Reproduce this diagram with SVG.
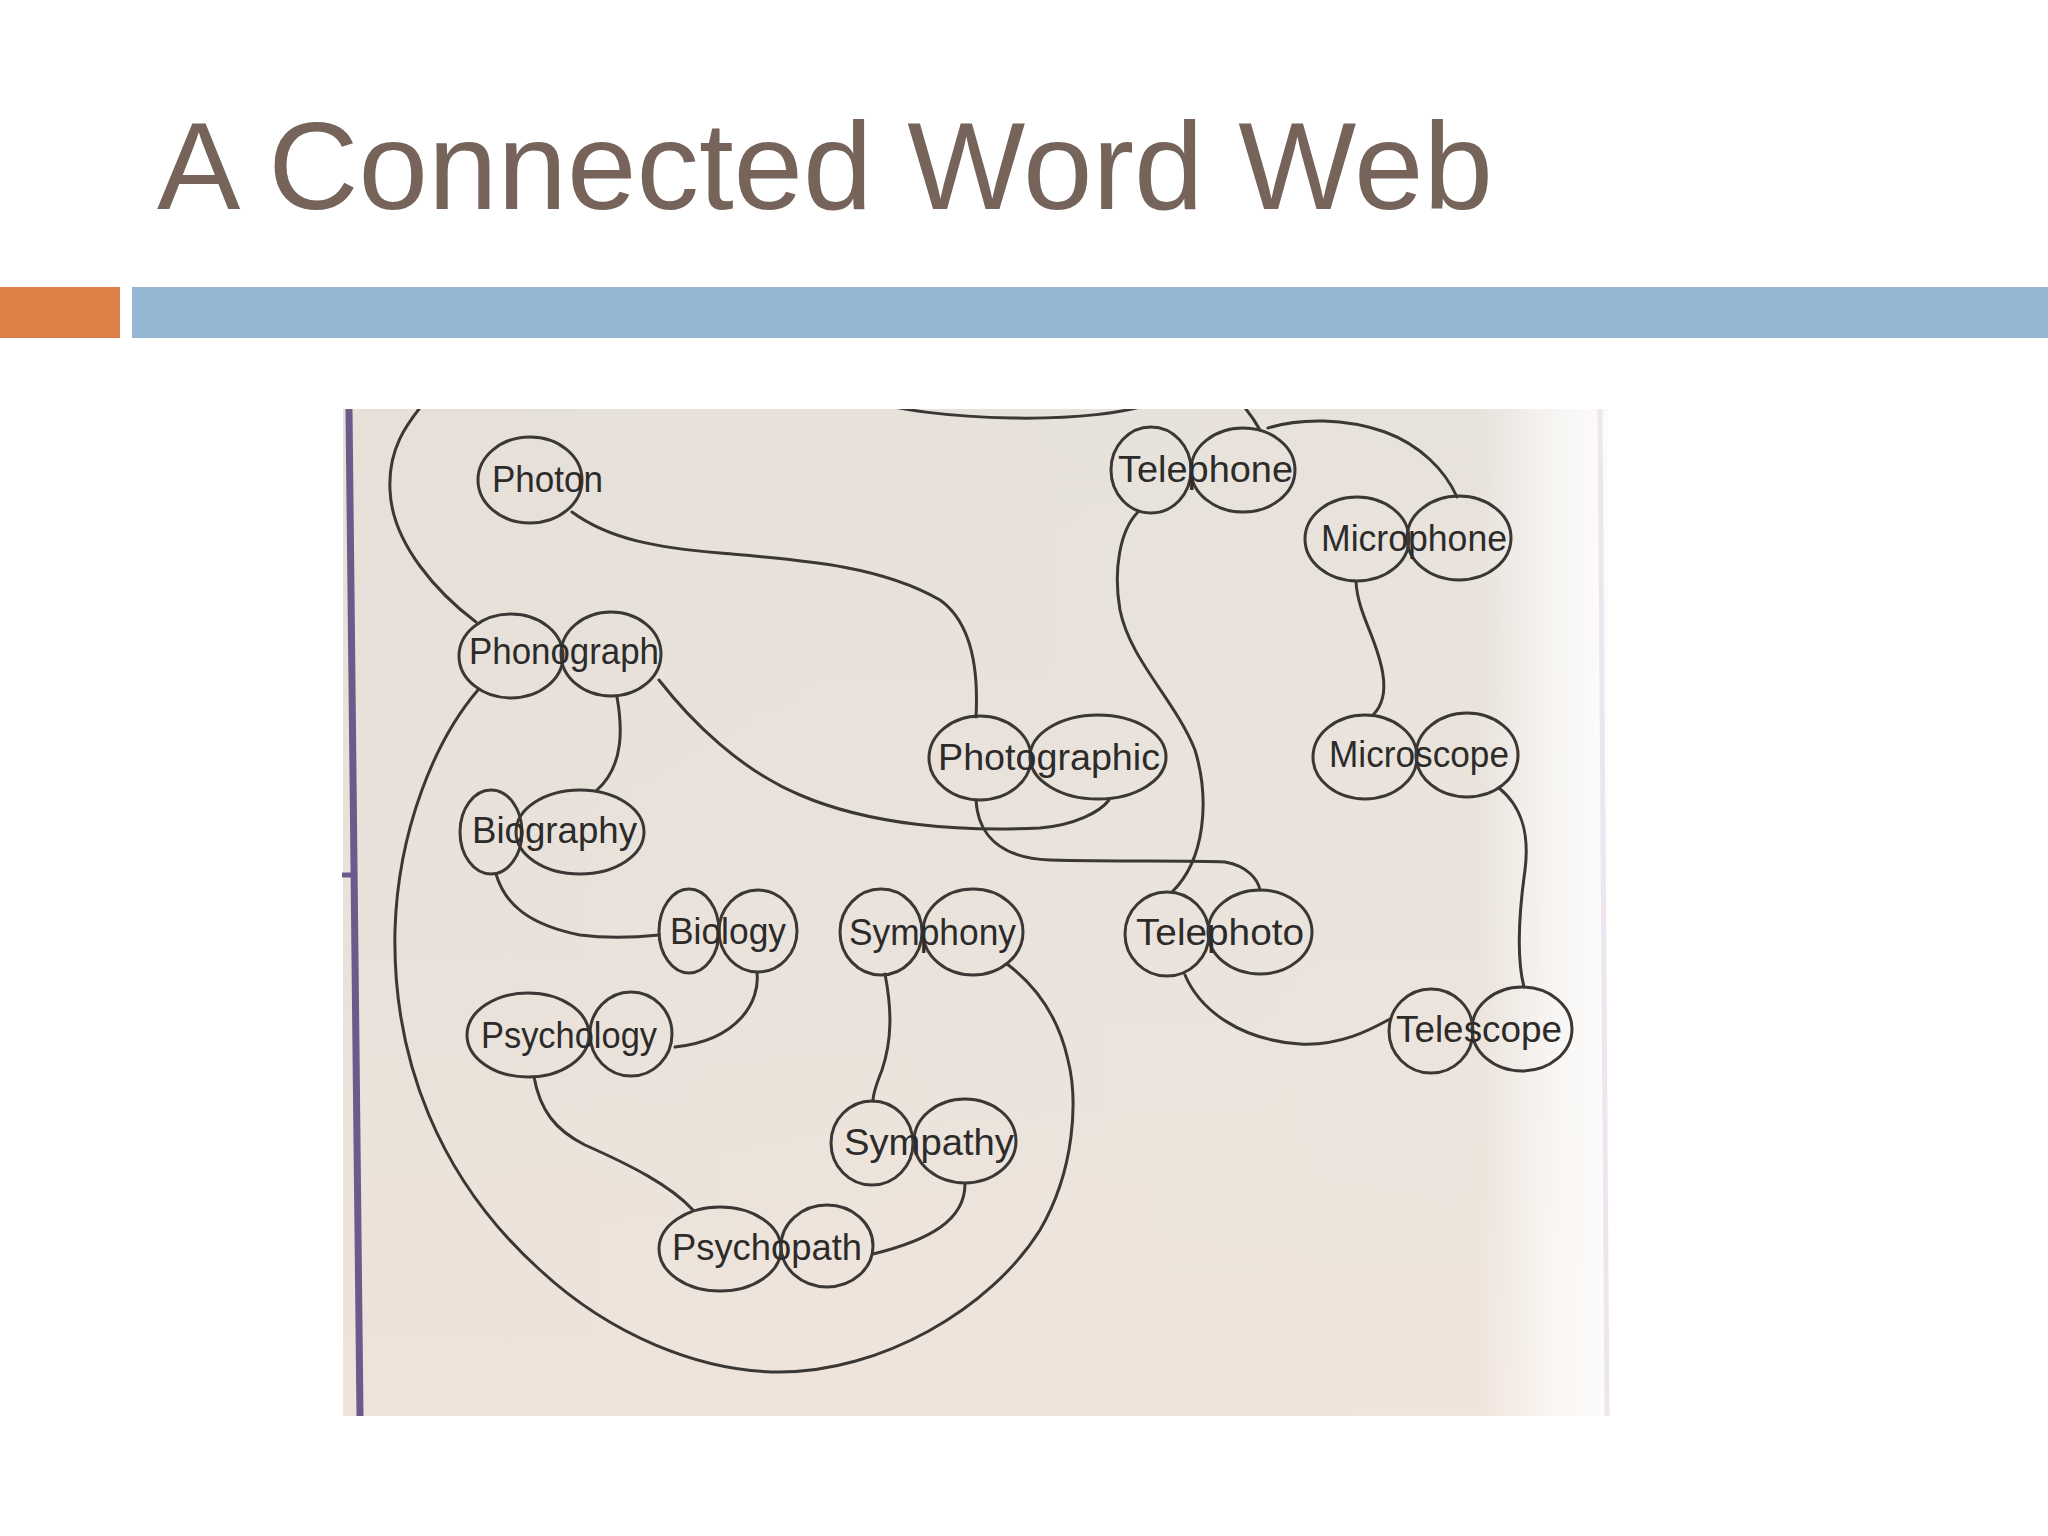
<svg xmlns="http://www.w3.org/2000/svg" width="2048" height="1536" viewBox="0 0 2048 1536">
<defs>
<style>
.title{font-family:"Liberation Sans",Arial,sans-serif;font-size:124px;fill:#76635A}
.n ellipse{fill:none;stroke:#3a3735;stroke-width:3}
.n text{font-family:"Liberation Sans",Arial,sans-serif;font-size:36px;fill:#2d2b2a}
.c path{fill:none;stroke:#3a3735;stroke-width:3;stroke-linecap:round}
</style>
<linearGradient id="bgv" x1="0" y1="0" x2="0" y2="1">
<stop offset="0" stop-color="#E6E0D9"/>
<stop offset="0.55" stop-color="#E9E2DA"/>
<stop offset="1" stop-color="#EFE3DA"/>
</linearGradient>
<linearGradient id="fade" x1="343" y1="0" x2="1608" y2="0" gradientUnits="userSpaceOnUse">
<stop offset="0" stop-color="#FFFFFF" stop-opacity="0"/>
<stop offset="0.9" stop-color="#FFFFFF" stop-opacity="0.08"/>
<stop offset="0.96" stop-color="#FFFFFF" stop-opacity="0.7"/>
<stop offset="1" stop-color="#FFFFFF" stop-opacity="0.9"/>
</linearGradient>
<clipPath id="photo"><rect x="343" y="409" width="1265" height="1007"/></clipPath>
</defs>
<rect width="2048" height="1536" fill="#FFFFFF"/>
<text class="title" x="157" y="209" textLength="1336" lengthAdjust="spacingAndGlyphs">A Connected Word Web</text>
<rect x="0" y="287" width="120" height="51" fill="#DD8047"/>
<rect x="132" y="287" width="1916" height="51" fill="#94B6D2"/>
<g id="photo-bg">
<rect x="343" y="409" width="1265" height="1007" fill="url(#bgv)"/>
<rect x="343" y="409" width="1265" height="1007" fill="url(#fade)"/>
<line x1="1600" y1="409" x2="1607" y2="1416" stroke="#EDE6F0" stroke-width="5"/>
<line x1="349" y1="409" x2="360" y2="1416" stroke="#6B5A8A" stroke-width="7"/>
<line x1="342" y1="875" x2="352" y2="875" stroke="#6B5A8A" stroke-width="5"/>
</g>
<g id="connectors" class="c" clip-path="url(#photo)">
<path d="M 476 622 C 440 595, 392 545, 390 490 C 388 450, 405 425, 428 398"/>
<path d="M 870 400 C 920 420, 1100 428, 1160 400"/>
<path d="M 1236 398 Q 1250 412, 1260 430"/>
<path d="M 1268 428 C 1300 418, 1345 418, 1385 432 C 1420 445, 1445 470, 1457 497"/>
<path d="M 572 512 C 610 540, 660 548, 720 553 C 800 560, 880 565, 940 600 C 975 625, 978 680, 976 717"/>
<path d="M 659 680 C 690 720, 740 770, 800 795 C 870 825, 960 832, 1040 828 C 1075 825, 1100 812, 1109 800"/>
<path d="M 617 697 C 622 725, 625 765, 597 790"/>
<path d="M 478 690 C 435 740, 398 830, 395 930 C 392 1060, 440 1180, 540 1270 C 610 1335, 700 1372, 780 1372 C 880 1372, 990 1310, 1040 1230 C 1075 1170, 1078 1100, 1068 1060 C 1058 1015, 1035 985, 1007 964"/>
<path d="M 496 874 C 505 905, 530 925, 580 935 C 610 939, 640 937, 659 935"/>
<path d="M 757 973 C 760 1000, 740 1040, 675 1047"/>
<path d="M 534 1077 C 540 1110, 555 1130, 585 1145 C 630 1165, 670 1185, 693 1210"/>
<path d="M 885 974 C 892 1010, 892 1040, 882 1070 C 876 1085, 873 1095, 873 1101"/>
<path d="M 965 1184 C 965 1220, 930 1240, 873 1254"/>
<path d="M 976 800 C 978 835, 1000 858, 1050 860 C 1120 862, 1190 860, 1225 862 C 1248 866, 1258 880, 1260 890"/>
<path d="M 1138 512 C 1120 530, 1113 570, 1120 610 C 1130 660, 1175 700, 1195 750 C 1210 800, 1205 860, 1172 892"/>
<path d="M 1356 582 C 1358 615, 1378 640, 1383 675 C 1386 695, 1380 708, 1373 715"/>
<path d="M 1499 788 C 1520 805, 1530 830, 1525 870 C 1518 920, 1517 960, 1524 987"/>
<path d="M 1185 975 C 1200 1010, 1240 1040, 1300 1044 C 1340 1046, 1370 1030, 1390 1019"/>
</g>
<g id="photon" class="n"><ellipse cx="530" cy="480" rx="52" ry="43"/><text x="492" y="492" textLength="111" lengthAdjust="spacingAndGlyphs">Photon</text></g>
<g id="phonograph" class="n"><ellipse cx="511" cy="656" rx="52" ry="42"/><ellipse cx="611" cy="654" rx="50" ry="42"/><text x="469" y="664" textLength="190" lengthAdjust="spacingAndGlyphs">Phonograph</text></g>
<g id="biography" class="n"><ellipse cx="491" cy="832" rx="31" ry="42"/><ellipse cx="580" cy="832" rx="64" ry="42"/><text x="472" y="843" textLength="165" lengthAdjust="spacingAndGlyphs">Biography</text></g>
<g id="photographic" class="n"><ellipse cx="980" cy="758" rx="51" ry="42"/><ellipse cx="1098" cy="757" rx="68" ry="42"/><text x="938" y="770" textLength="222" lengthAdjust="spacingAndGlyphs">Photographic</text></g>
<g id="telephone" class="n"><ellipse cx="1151" cy="470" rx="40" ry="43"/><ellipse cx="1243" cy="470" rx="52" ry="42"/><text x="1118" y="482" textLength="175" lengthAdjust="spacingAndGlyphs">Telephone</text></g>
<g id="microphone" class="n"><ellipse cx="1357" cy="539" rx="52" ry="42"/><ellipse cx="1459" cy="538" rx="52" ry="42"/><text x="1321" y="551" textLength="186" lengthAdjust="spacingAndGlyphs">Microphone</text></g>
<g id="microscope" class="n"><ellipse cx="1365" cy="757" rx="52" ry="42"/><ellipse cx="1467" cy="755" rx="51" ry="42"/><text x="1329" y="767" textLength="180" lengthAdjust="spacingAndGlyphs">Microscope</text></g>
<g id="biology" class="n"><ellipse cx="689" cy="931" rx="30" ry="42"/><ellipse cx="758" cy="931" rx="39" ry="41"/><text x="670" y="944" textLength="116" lengthAdjust="spacingAndGlyphs">Biology</text></g>
<g id="symphony" class="n"><ellipse cx="881" cy="932" rx="41" ry="43"/><ellipse cx="973" cy="932" rx="50" ry="43"/><text x="849" y="945" textLength="167" lengthAdjust="spacingAndGlyphs">Symphony</text></g>
<g id="psychology" class="n"><ellipse cx="528" cy="1035" rx="61" ry="42"/><ellipse cx="631" cy="1034" rx="41" ry="42"/><text x="481" y="1048" textLength="176" lengthAdjust="spacingAndGlyphs">Psychology</text></g>
<g id="sympathy" class="n"><ellipse cx="872" cy="1143" rx="41" ry="42"/><ellipse cx="965" cy="1141" rx="51" ry="42"/><text x="844" y="1155" textLength="170" lengthAdjust="spacingAndGlyphs">Sympathy</text></g>
<g id="psychopath" class="n"><ellipse cx="720" cy="1249" rx="61" ry="42"/><ellipse cx="827" cy="1246" rx="46" ry="41"/><text x="672" y="1260" textLength="190" lengthAdjust="spacingAndGlyphs">Psychopath</text></g>
<g id="telephoto" class="n"><ellipse cx="1167" cy="934" rx="42" ry="42"/><ellipse cx="1260" cy="932" rx="52" ry="42"/><text x="1136" y="945" textLength="168" lengthAdjust="spacingAndGlyphs">Telephoto</text></g>
<g id="telescope" class="n"><ellipse cx="1431" cy="1031" rx="42" ry="42"/><ellipse cx="1522" cy="1029" rx="50" ry="42"/><text x="1396" y="1042" textLength="166" lengthAdjust="spacingAndGlyphs">Telescope</text></g>
</svg>
